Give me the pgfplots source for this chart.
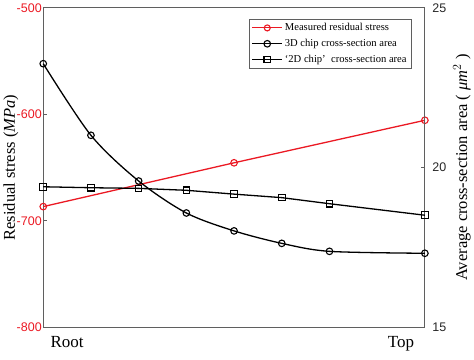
\documentclass[border=0pt]{standalone}
\usepackage{fontspec}
\setmainfont{Liberation Serif}
\newfontfamily\sansf{Liberation Sans}
\usepackage{pgfplots}
\pgfplotsset{compat=1.18}
\definecolor{axgray}{RGB}{95,95,95}
\definecolor{myred}{RGB}{235,25,35}
\begin{document}
\begin{tikzpicture}
\begin{axis}[
 at={(0,0)}, anchor=south west,
 scale only axis, width=382pt, height=320pt,
 xmin=0, xmax=8, ymin=-800, ymax=-500,
 xtick={0.5,7.5}, xticklabels={Root,Top},
 x tick style={draw=none},
 x tick label style={font=\fontsize{17}{20}\selectfont, yshift=-5pt},
 ytick={-800,-700,-600,-500},
 yticklabels={-800,-700,-600,-500},
 ytick pos=left,
 y tick label style={font=\sansf\fontsize{12.5}{14}\selectfont, text=myred, xshift=2pt},
 axis line style={axgray, line width=0.9pt},
 y tick style={axgray, line width=0.9pt},
 major tick length=4pt,
 tick align=inside,
 ylabel={Residual stress (\textit{MPa})},
 every axis y label/.style={at={(axis description cs:-0.085,0.5)}, rotate=90, anchor=center, font=\fontsize{16.5}{20}\selectfont},
 clip=false,
]
\addplot[myred, line width=1.3pt, mark=o, mark size=3.3pt, mark options={line width=1.1pt}] coordinates {(0,-686.6) (4,-645.5) (8,-605.6)};
\end{axis}
\begin{axis}[
 at={(0,0)}, anchor=south west,
 scale only axis, width=382pt, height=320pt,
 xmin=0, xmax=8, ymin=15, ymax=25,
 axis x line=none,
 axis y line*=right,
 ytick={15,20,25},
 yticklabels={15,20,25},
 y tick label style={font=\sansf\fontsize{12.5}{14}\selectfont, text=black!85, xshift=4pt},
 axis line style={axgray, line width=0.9pt},
 y tick style={axgray, line width=0.9pt},
 major tick length=4pt,
 tick align=inside,
 ylabel={Average cross-section area ( \textit{μm}$^{2}$ )},
 every axis y label/.style={at={(axis description cs:1.097,0.5)}, rotate=90, anchor=center, font=\fontsize{16.5}{20}\selectfont},
 clip=false,
 legend style={at={(0.965,0.966)}, anchor=north east, font=\fontsize{10.6}{13}\selectfont, draw=axgray, line width=0.8pt, inner sep=2.5pt, row sep=3pt},
 legend cell align=left,
 legend image code/.code={\draw[mark repeat=2,mark phase=2] plot coordinates {(0pt,0pt) (15pt,0pt) (30pt,0pt)};},
]
\addlegendimage{myred, line width=1.1pt, mark=o, mark size=3pt}
\addlegendentry{Measured residual stress}
\addplot[black, line width=1.3pt, smooth, mark=o, mark size=3.3pt, mark options={line width=1.1pt}] coordinates {(0,23.25) (1,21.01) (2,19.58) (3,18.58) (4,18.02) (5,17.63) (6,17.38) (8,17.32)};
\addlegendentry{3D chip cross-section area}
\addplot[black, line width=1.3pt, mark=square, mark size=3.3pt, mark options={line width=1.1pt}] coordinates {(0,19.40) (1,19.37) (2,19.35) (3,19.29) (4,19.17) (5,19.06) (6,18.87) (8,18.51)};
\addlegendentry{‘2D chip’\ \ cross-section area}
\end{axis}
\path[use as bounding box] (-43pt,-32pt) rectangle (431pt,324pt);
\end{tikzpicture}
\end{document}
